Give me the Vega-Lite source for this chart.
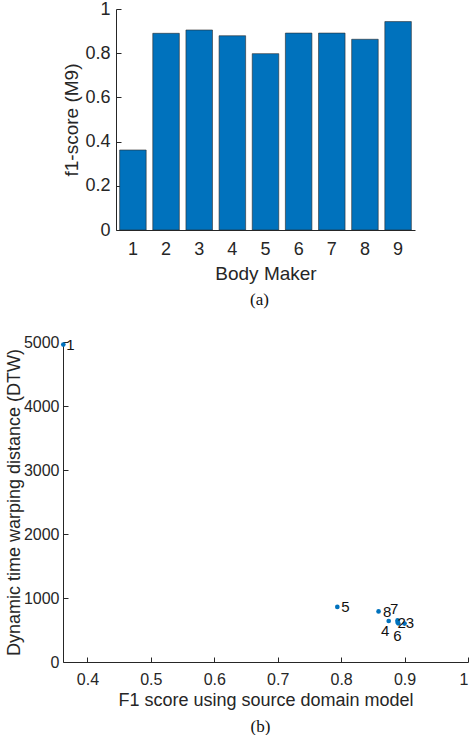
{
  "$schema": "https://vega.github.io/schema/vega-lite/v6.json",
  "padding": {"left": 5, "top": 0, "right": 0, "bottom": 0},
  "spacing": 13,
  "align": "all",
  "center": true,
  "bounds": "flush",
  "config": {
    "view": {"stroke": null},
    "font": "Liberation Sans",
    "axis": {
      "grid": false,
      "domainColor": "#262626",
      "tickColor": "#262626",
      "labelColor": "#262626",
      "titleColor": "#262626",
      "titleFontWeight": "normal",
      "labelFont": "Liberation Sans",
      "titleFont": "Liberation Sans"
    },
    "title": {"font": "Liberation Serif", "fontWeight": "normal", "fontSize": 17, "color": "#111"}
  },
  "datasets": {
    "bars": [
      {"maker": "1", "f1": 0.362},
      {"maker": "2", "f1": 0.89},
      {"maker": "3", "f1": 0.905},
      {"maker": "4", "f1": 0.879},
      {"maker": "5", "f1": 0.798},
      {"maker": "6", "f1": 0.891},
      {"maker": "7", "f1": 0.891},
      {"maker": "8", "f1": 0.863},
      {"maker": "9", "f1": 0.943}
    ],
    "points": [
      {"id": "1", "f1": 0.362, "dtw": 4960, "lx": 0.3667, "ly": 4953},
      {"id": "5", "f1": 0.794, "dtw": 860, "lx": 0.8, "ly": 859},
      {"id": "8", "f1": 0.859, "dtw": 790, "lx": 0.866, "ly": 781},
      {"id": "4", "f1": 0.875, "dtw": 641, "lx": 0.863, "ly": 484},
      {"id": "7", "f1": 0.889, "dtw": 650, "lx": 0.877, "ly": 828},
      {"id": "2", "f1": 0.889, "dtw": 625, "lx": 0.889, "ly": 609},
      {"id": "6", "f1": 0.89, "dtw": 605, "lx": 0.882, "ly": 406},
      {"id": "3", "f1": 0.9, "dtw": 600, "lx": 0.902, "ly": 609}
    ]
  },
  "vconcat": [
    {
      "width": 299,
      "height": 221,
      "data": {"name": "bars"},
      "title": {"text": "(a)", "orient": "bottom", "dx": -6, "offset": 9},
      "mark": {"type": "bar", "color": "#0072BD", "stroke": "#2a2a2a", "strokeWidth": 0.6},
      "encoding": {
        "x": {
          "field": "maker",
          "type": "ordinal",
          "scale": {"paddingInner": 0.2, "paddingOuter": 0.11},
          "axis": {"title": "Body Maker", "labelAngle": 0, "ticks": false, "labelFontSize": 18, "titleFontSize": 19, "labelPadding": 10, "titlePadding": 6}
        },
        "y": {
          "field": "f1",
          "type": "quantitative",
          "scale": {"domain": [0, 1], "nice": false},
          "axis": {"title": "f1-score (M9)", "values": [0, 0.2, 0.4, 0.6, 0.8, 1], "format": "~g", "tickSize": -5, "labelFontSize": 18, "titleFontSize": 19, "labelPadding": 11, "titlePadding": 3}
        }
      }
    },
    {
      "width": 405,
      "height": 320,
      "data": {"name": "points"},
      "title": {"text": "(b)", "orient": "bottom", "dx": -5, "offset": 10},
      "encoding": {
        "x": {
          "type": "quantitative",
          "scale": {"domain": [0.3615, 1], "nice": false}
        },
        "y": {
          "type": "quantitative",
          "scale": {"domain": [0, 5000], "nice": false}
        }
      },
      "layer": [
        {
          "mark": {"type": "circle", "color": "#0072BD", "size": 22, "opacity": 1},
          "encoding": {
            "x": {
              "field": "f1",
              "type": "quantitative",
              "axis": {"title": "F1 score using source domain model", "values": [0.4, 0.5, 0.6, 0.7, 0.8, 0.9, 1], "format": "~g", "tickSize": -5, "labelFontSize": 16, "titleFontSize": 18, "labelPadding": 14, "titlePadding": 4}
            },
            "y": {
              "field": "dtw",
              "type": "quantitative",
              "axis": {"title": "Dynamic time warping distance (DTW)", "values": [0, 1000, 2000, 3000, 4000, 5000], "format": "d", "tickSize": -5, "labelFontSize": 16, "titleFontSize": 18, "labelPadding": 9, "titlePadding": 0}
            }
          }
        },
        {
          "mark": {"type": "text", "align": "left", "baseline": "middle", "fontSize": 15, "color": "#111"},
          "encoding": {
            "x": {"field": "lx", "type": "quantitative"},
            "y": {"field": "ly", "type": "quantitative"},
            "text": {"field": "id"}
          }
        }
      ]
    }
  ]
}
